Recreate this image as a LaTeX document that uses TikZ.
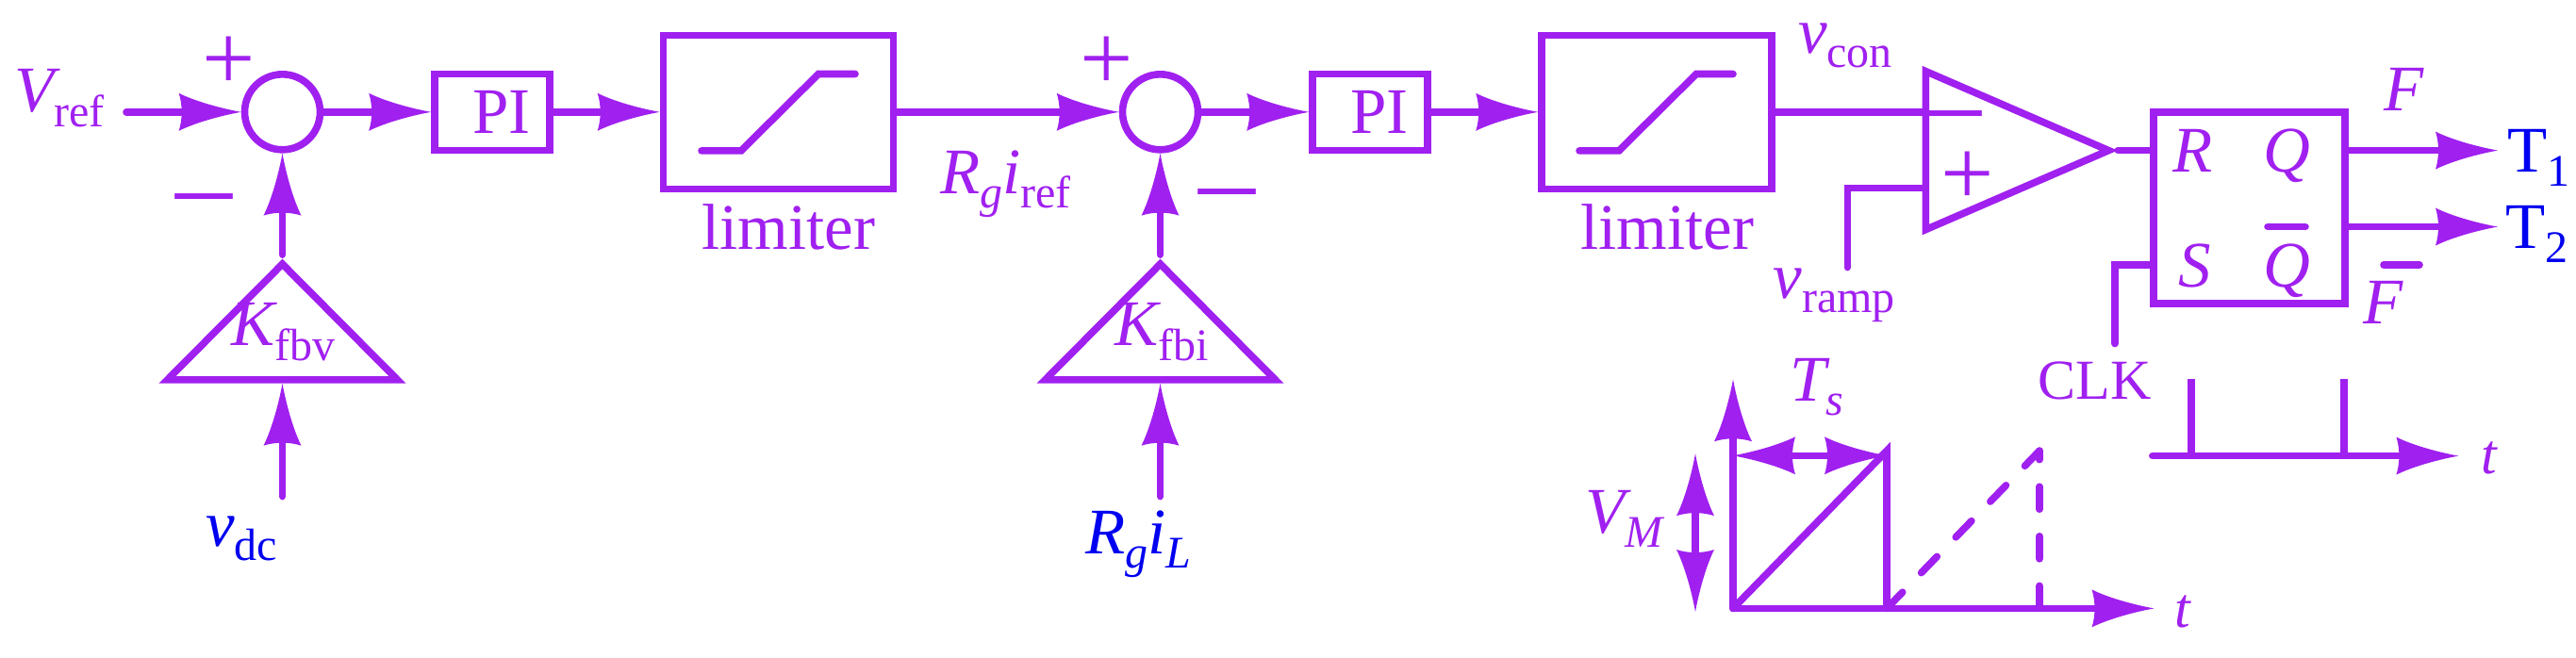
\documentclass[tikz,border=0pt]{standalone}
\usepackage{fontspec}
\setmainfont{Liberation Serif}
\usetikzlibrary{arrows.meta,shapes.geometric,calc}
\definecolor{vio}{RGB}{160,32,240}
\definecolor{blu}{RGB}{0,0,240}
\pgfdeclarearrow{
  name=Barb,
  setup code={
    \pgfarrowssettipend{0pt}
    \pgfarrowssetlineend{-20pt}
    \pgfarrowssetvisualbackend{-31pt}
    \pgfarrowssetbackend{-33pt}
    \pgfarrowshullpoint{0pt}{0pt}
    \pgfarrowsupperhullpoint{-33pt}{10pt}
  },
  drawing code={
    \pgfpathmoveto{\pgfqpoint{0pt}{0pt}}
    \pgfpathcurveto{\pgfqpoint{-10pt}{1.8pt}}{\pgfqpoint{-24pt}{5.5pt}}{\pgfqpoint{-33pt}{10pt}}
    \pgfpathcurveto{\pgfqpoint{-31pt}{3.6pt}}{\pgfqpoint{-31pt}{-3.6pt}}{\pgfqpoint{-33pt}{-10pt}}
    \pgfpathcurveto{\pgfqpoint{-24pt}{-5.5pt}}{\pgfqpoint{-10pt}{-1.8pt}}{\pgfqpoint{0pt}{0pt}}
    \pgfpathclose
    \pgfusepathqfill
  }
}
\newcommand\sbx[1]{\raisebox{-7.7pt}{\fontsize{24}{24}\selectfont #1}}
\tikzset{
  wire/.style={draw=vio,line width=3.8pt,line cap=round,line join=miter},
  arr/.style={wire,-{Barb[]}},
  darr/.style={wire,{Barb[]}-{Barb[]}},
  blockbox/.style={draw=vio,line width=3.8pt,rectangle,inner sep=0pt,text=vio,font=\fontsize{34.5}{34.5}\selectfont},
  sumnode/.style={draw=vio,line width=3.8pt,circle,minimum size=40pt,inner sep=0pt},
  gaintri/.style={draw=vio,line width=3.8pt,isosceles triangle,isosceles triangle stretches,inner sep=0pt,shape border rotate=90,minimum width=122pt,minimum height=61.4pt},
  comptri/.style={draw=vio,line width=3.8pt,isosceles triangle,isosceles triangle stretches,inner sep=0pt,minimum width=84pt,minimum height=97pt},
  lab/.style={anchor=base west,inner sep=0pt,outer sep=0pt,text=vio,font=\fontsize{34.5}{34.5}\selectfont},
  blab/.style={lab,text=blu},
  sgn/.style={anchor=center,inner sep=0pt,outer sep=0pt,text=vio,font=\fontsize{50}{50}\selectfont},
  dashsgn/.style={sgn,font=\fontsize{60}{60}\selectfont},
  pw/.style={wire,line cap=butt},
  dsh/.style={wire,dash pattern=on 12pt off 14.3pt}
}
\begin{document}
\begin{tikzpicture}[x=.5pt,y=-.3667pt]
\useasboundingbox (0,0) rectangle (2732,950.5);
% first loop
\coordinate (vin1) at (134,162);
\node[sumnode] (sum1) at (299.5,162) {};
\node[blockbox,minimum width=61pt,minimum height=40.5pt] (pi1) at (522,162) {\hspace*{10pt}PI};
\node[blockbox,minimum width=122pt,minimum height=81.5pt] (lim1) at (825.5,162) {};
\node[gaintri,anchor=lower side] (tri1) at (299.5,554.5) {};
\coordinate (dc1) at (299.5,718);
\draw[arr] (vin1) -- (sum1);
\draw[arr] (sum1) -- (pi1);
\draw[arr] (pi1) -- (lim1);
\draw[arr] (tri1.apex) -- (sum1);
\draw[arr] (dc1) -- (tri1.lower side);
\coordinate (c1a) at (744,218);\coordinate (c1b) at (786,218);\coordinate (c1c) at (868,107);\coordinate (c1d) at (907,107);
\draw[wire] (c1a) -- (c1b) -- (c1c) -- (c1d);
% second loop
\node[sumnode] (sum2) at (1230.5,162) {};
\node[blockbox,minimum width=61pt,minimum height=40.5pt] (pi2) at (1453,162) {\hspace*{10pt}PI};
\node[blockbox,minimum width=122pt,minimum height=81.5pt] (lim2) at (1757,162) {};
\node[gaintri,anchor=lower side] (tri2) at (1230.5,554.5) {};
\coordinate (dc2) at (1230.5,718);
\draw[arr] (lim1) -- (sum2);
\draw[arr] (sum2) -- (pi2);
\draw[arr] (pi2) -- (lim2);
\draw[arr] (tri2.apex) -- (sum2);
\draw[arr] (dc2) -- (tri2.lower side);
\coordinate (c2a) at (1675,218);\coordinate (c2b) at (1717,218);\coordinate (c2c) at (1799,107);\coordinate (c2d) at (1838,107);
\draw[wire] (c2a) -- (c2b) -- (c2c) -- (c2d);
% comparator + flip flop
\node[comptri,anchor=lower side] (comp) at (2038.5,217.6) {};
\node[blockbox,minimum width=101.5pt,minimum height=101.5pt] (ff) at (2385.4,300.6) {};
\coordinate (compm) at (2042,162);
\coordinate (compp) at (2042,272);
\coordinate (rampend) at (1959.3,386.7);
\draw[wire] (lim2) -- (compm);
\draw[wire] (rampend) |- (compp);
\coordinate (ffr) at (2281,217.6);
\coordinate (ffs) at (2281,383);
\coordinate (clkend) at (2243,497);
\draw[wire] (comp.apex) -- (ffr);
\draw[wire] (clkend) |- (ffs);
\coordinate (ffq) at (2490,217.6);
\coordinate (ffnq) at (2490,328);
\coordinate (t1tip) at (2649,217.6);
\coordinate (t2tip) at (2649,328);
\draw[arr] (ffq) -- (t1tip);
\draw[arr] (ffnq) -- (t2tip);
\coordinate (qb1) at (2405,328);\coordinate (qb2) at (2445,328);
\draw[wire] (qb1) -- (qb2);
\coordinate (fb1) at (2528,383);\coordinate (fb2) at (2566,383);
\draw[wire] (fb1) -- (fb2);
% ramp plot
\coordinate (o) at (1838,880);
\coordinate (ytip) at (1838,548.5);
\coordinate (xtip) at (2284.5,880);
\coordinate (rtop) at (2001,652);
\coordinate (rbot) at (2001,880);
\coordinate (dtop) at (2163,652);
\coordinate (dbot) at (2163,880);
\coordinate (tsl) at (1838,659);
\coordinate (tsr) at (2001,659);
\coordinate (vmt) at (1798,656);
\coordinate (vmb) at (1798,885);
\draw[arr] (o) -- (ytip);
\draw[arr] (o) -- (xtip);
\draw[wire] (o) -- (rtop) -- (rbot);
\draw[dsh] (rbot) -- (dtop);
\draw[dsh] (dbot) -- (dtop);
\draw[darr] (tsl) -- (tsr);
\draw[darr] (vmt) -- (vmb);
% clock plot
\coordinate (co) at (2282.8,659.4);
\coordinate (ctip) at (2607.4,659.4);
\coordinate (p1t) at (2323.8,548.5);\coordinate (p1b) at (2323.8,659.4);
\coordinate (p2t) at (2486,548.5);\coordinate (p2b) at (2486,659.4);
\draw[arr] (co) -- (ctip);
\draw[pw] (p1t) -- (p1b);
\draw[pw] (p2t) -- (p2b);
% labels
\node[lab] (lvref) at (15,162) {{\itshape V}\sbx{ref}};
\node[sgn] (lp1) at (242.5,92) {+};
\node[dashsgn] (lm1) at (216.5,302) {–};
\node[lab] (llim1) at (744,360.6) {limiter};
\node[lab] (lk1) at (245,500) {{\itshape K}\sbx{fbv}};
\node[blab] (lvdc) at (218,790) {{\itshape v}\sbx{dc}};
\node[lab] (lrir) at (997,280) {{\itshape R}\sbx{\itshape g}{\itshape i}\sbx{ref}};
\node[sgn] (lp2) at (1174,92) {+};
\node[dashsgn] (lm2) at (1301.5,294) {–};
\node[lab] (llim2) at (1676,360.6) {limiter};
\node[lab] (lk2) at (1182,500) {{\itshape K}\sbx{fbi}};
\node[blab] (lril) at (1151,801) {{\itshape R}\sbx{\itshape g}{\itshape i}\sbx{\itshape L}};
\node[lab] (lvcon) at (1907,77) {{\itshape v}\sbx{con}};
\node[lab] (lvramp) at (1880.4,431.5) {{\itshape v}\sbx{ramp}};
\node[dashsgn] (lm3) at (2071.4,182) {–};
\node[sgn] (lp3) at (2086.6,258.5) {+};
\node[lab] (lR) at (2304,248.5) {\itshape R};
\node[lab] (lQ) at (2400.5,248.5) {\itshape Q};
\node[lab] (lS) at (2310,415) {\itshape S};
\node[lab] (lQb) at (2400.5,415) {\itshape Q};
\node[lab] (lF) at (2528,160.6) {\itshape F};
\node[lab] (lFb) at (2506.3,468) {\itshape F};
\node[blab] (lT1) at (2659,248.5) {T\sbx{1}};
\node[blab] (lT2) at (2657,358.8) {T\sbx{2}};
\node[lab,font=\fontsize{30}{30}\selectfont] (lclk) at (2161.5,577) {CLK};
\node[lab,font=\fontsize{30}{30}\selectfont] (lt1) at (2631,685) {\itshape t};
\node[lab,font=\fontsize{30}{30}\selectfont] (lt2) at (2306.5,907) {\itshape t};
\node[lab] (lts) at (1898,580) {{\itshape T}\sbx{\itshape s}};
\node[lab] (lvm) at (1681.5,771) {{\itshape V}\sbx{\itshape M}};
\end{tikzpicture}
\end{document}
